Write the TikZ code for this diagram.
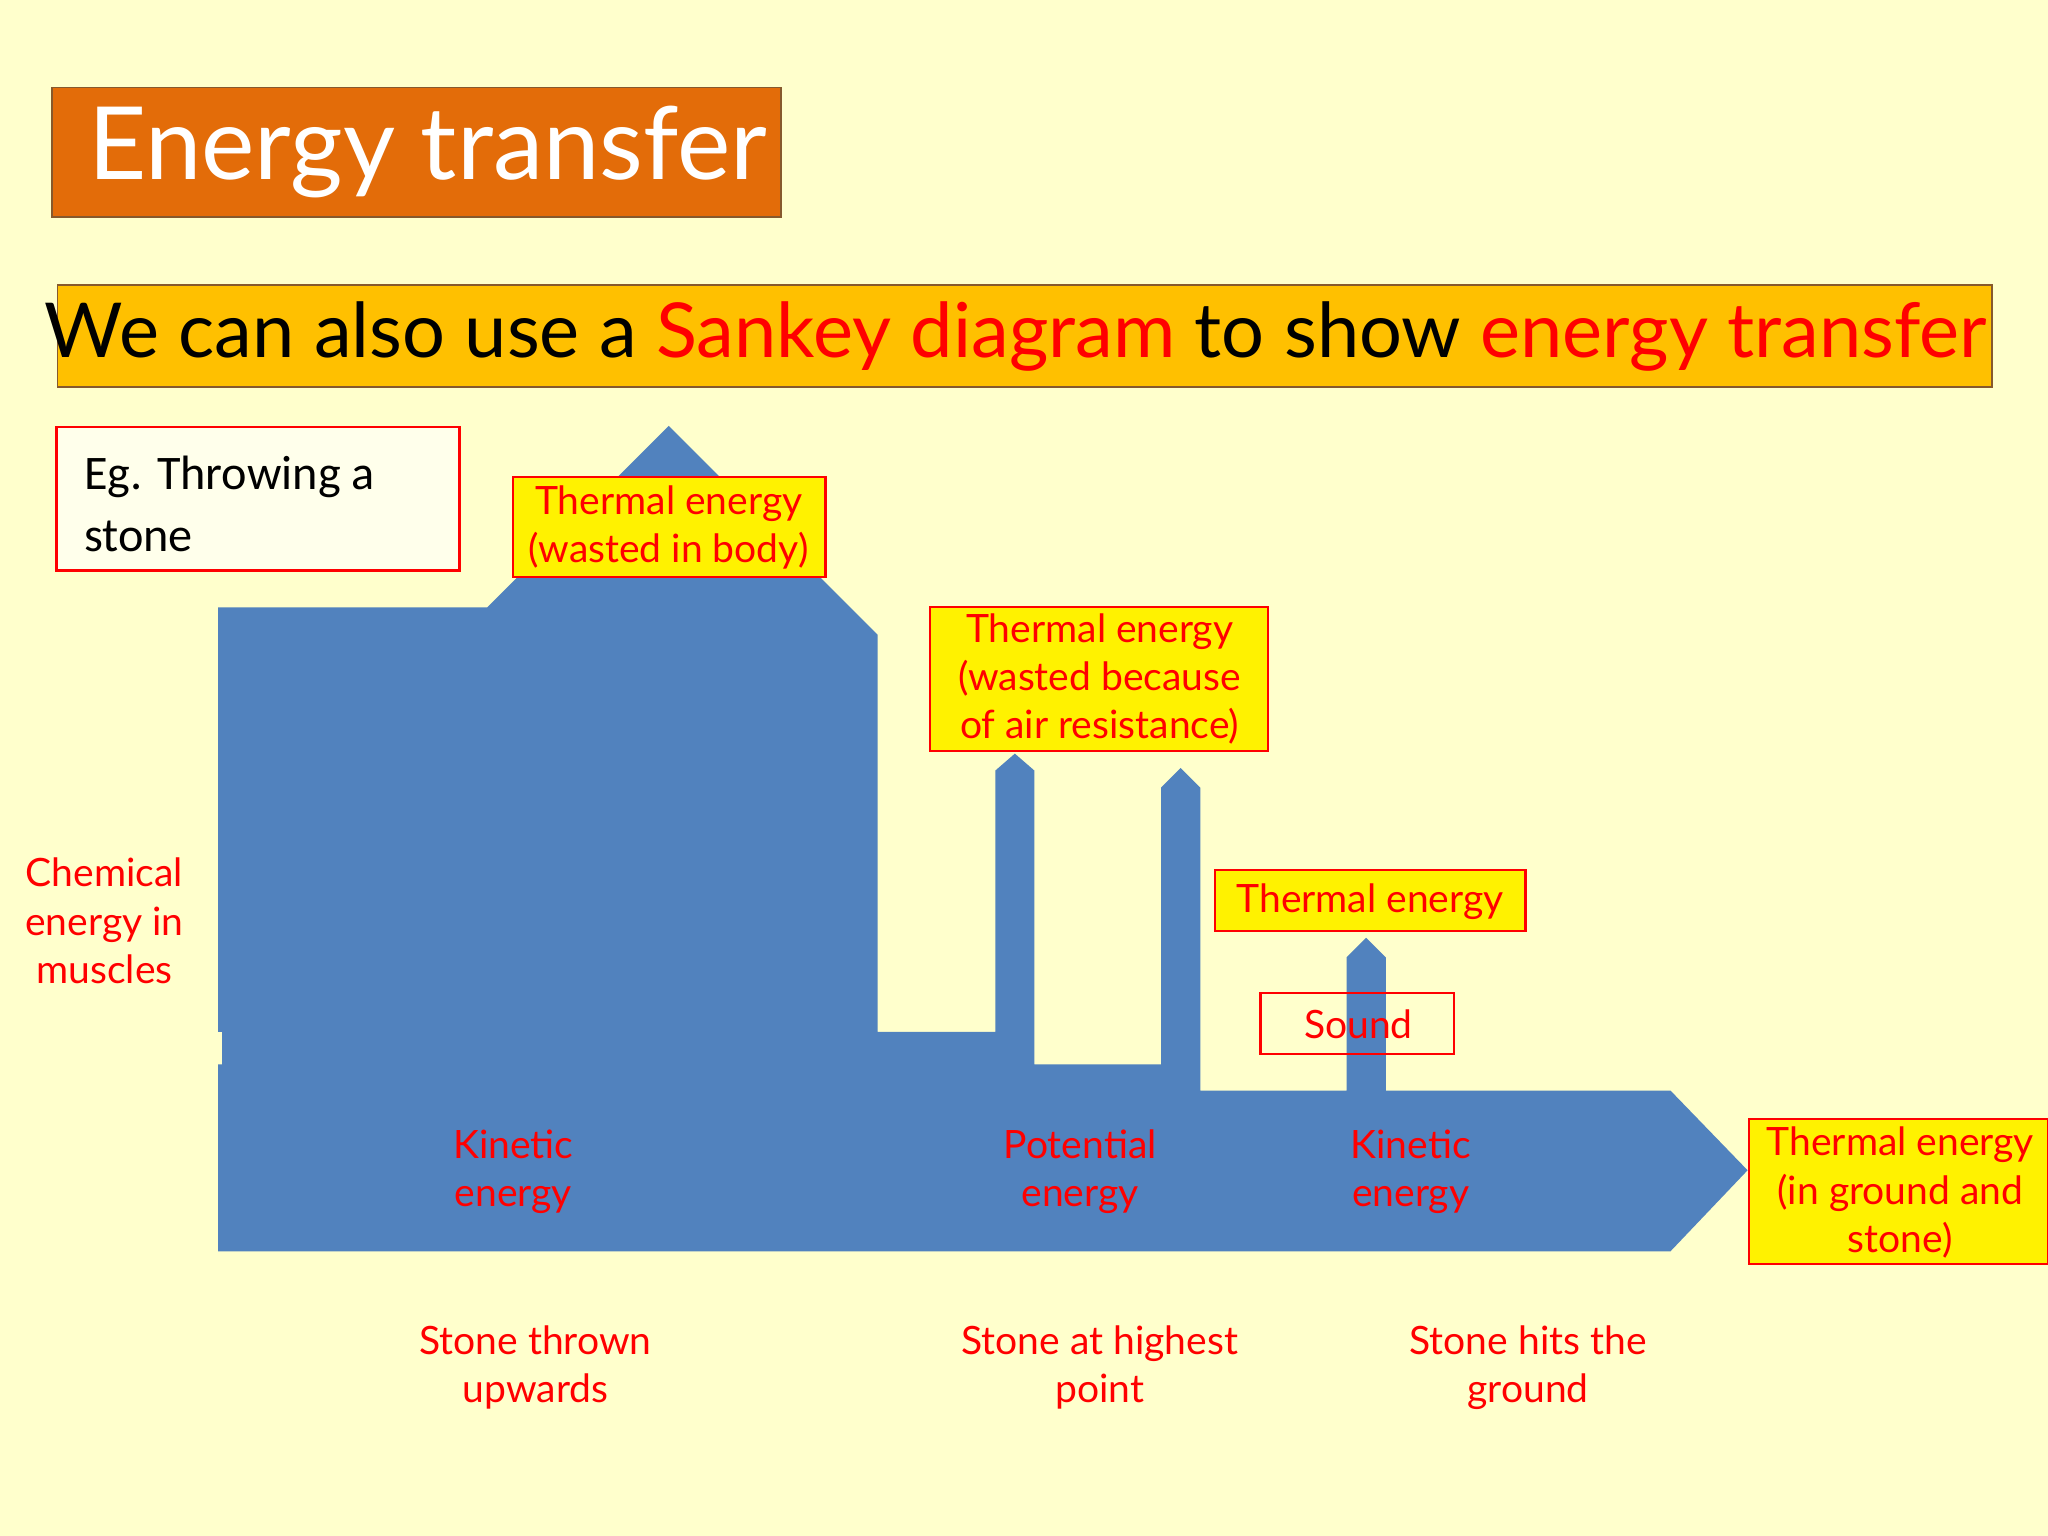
\documentclass[tikz,border=0pt]{standalone}
\usepackage{fontspec}
\setmainfont{Lato}
\newfontfamily\calib{Carlito}
\definecolor{bg}{HTML}{FFFFCC}
\definecolor{sblue}{HTML}{5182BE}
\definecolor{tit}{HTML}{E36C09}
\definecolor{sub}{HTML}{FFC000}
\definecolor{rd}{HTML}{FF0000}
\begin{document}
\begin{tikzpicture}[x=0.01cm,y=-0.01cm,
  lbl/.style={text=rd,font=\fontsize{8.5}{10.5}\selectfont,align=center},
  ybox/.style={draw=rd,fill=yellow,line width=0.5pt,inner sep=0pt}]
\fill[bg] (0,0) rectangle (1568,1176);
\useasboundingbox (0,0) rectangle (1568,1176);
% sankey
\fill[sblue] (167,465) -- (373,465) -- (512,326) -- (672,486) -- (672,790) -- (762,790) -- (762,590) -- (777,577) -- (792,590) -- (792,815) -- (889,815) -- (889,603) -- (904,588) -- (919,603) -- (919,835) -- (1031,835) -- (1031,733) -- (1046,718) -- (1061,733) -- (1061,835) -- (1279,835) -- (1338,896) -- (1279,958) -- (167,958) -- (167,815) -- (170,815) -- (170,790) -- (167,790) -- cycle;
% title
\draw[fill=tit,draw=brown!70!black] (40,67) rectangle (598,166);
\node[text=white,font=\fontsize{22}{26}\selectfont,anchor=west] (title) at (55,116) {Energy transfer};
\draw[fill=sub,draw=brown!70!black] (44,218) rectangle (1525,296);
\node[font=\fontsize{16.5}{20}\selectfont] (subt) at (778,258) {We can also use a \textcolor{rd}{Sankey diagram} to show \textcolor{rd}{energy transfer}};
% Eg box
\draw[draw=rd,fill=white!60!bg,line width=0.6pt] (43,327) rectangle (352,437);
\node[anchor=north west,align=left,font=\calib\fontsize{10.5}{13.5}\selectfont] (eg) at (52,337) {Eg. Throwing a\\stone};
% yellow boxes
\draw[ybox] (393,365) rectangle (632,442);
\node[lbl] (t1) at (512,404) {Thermal energy\\(wasted in body)};
\draw[ybox] (712,465) rectangle (971,575);
\node[lbl] (t2) at (842,520) {Thermal energy\\(wasted because\\of air resistance)};
\draw[ybox] (930,666) rectangle (1168,713);
\node[lbl] (t3) at (1049,690) {Thermal energy};
\draw[draw=rd,line width=0.5pt] (965,760) rectangle (1113,807);
\node[lbl] (snd) at (1040,784) {Sound};
\draw[ybox] (1339,857) rectangle (1568,968);
\node[lbl] (t4) at (1455,913) {Thermal energy\\(in ground and\\stone)};
% free labels
\node[lbl] (chem) at (80,705) {Chemical\\energy in\\muscles};
\node[lbl] (k1) at (393,897) {Kinetic\\energy};
\node[lbl] (pe) at (827,897) {Potential\\energy};
\node[lbl] (k2) at (1080,897) {Kinetic\\energy};
\node[lbl] (s1) at (410,1047) {Stone thrown\\upwards};
\node[lbl] (s2) at (842,1047) {Stone at highest\\point};
\node[lbl] (s3) at (1170,1047) {Stone hits the\\ground};
\end{tikzpicture}
\end{document}
